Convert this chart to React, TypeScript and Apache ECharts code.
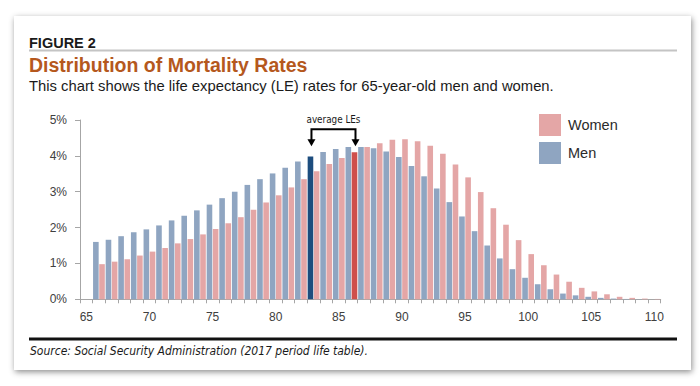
import React, { useEffect, useRef } from 'react';
import * as echarts from 'echarts';

const AGES = ['65', '66', '67', '68', '69', '70', '71', '72', '73', '74', '75', '76', '77', '78', '79', '80', '81', '82', '83', '84', '85', '86', '87', '88', '89', '90', '91', '92', '93', '94', '95', '96', '97', '98', '99', '100', '101', '102', '103', '104', '105', '106', '107', '108', '109', '110'];

const MEN = [null, 1.60, 1.66, 1.76, 1.87, 1.95, 2.06, 2.20, 2.33, 2.48, 2.64, 2.82, 3.00, 3.19, 3.35, 3.51, 3.67, 3.84, 3.98, 4.11, 4.19, 4.25, 4.25, 4.21, 4.12, 3.97, 3.72, 3.43, 3.09, 2.71, 2.31, 1.90, 1.50, 1.14, 0.84, 0.60, 0.42, 0.28, 0.16, 0.11, 0.07, 0.04, 0.02, 0.01, 0.005, 0];

const WOMEN = [null, 0.98, 1.05, 1.12, 1.22, 1.33, 1.43, 1.56, 1.68, 1.81, 1.96, 2.12, 2.29, 2.50, 2.70, 2.90, 3.12, 3.35, 3.57, 3.77, 3.94, 4.10, 4.25, 4.35, 4.45, 4.46, 4.41, 4.28, 4.06, 3.76, 3.40, 2.99, 2.54, 2.08, 1.65, 1.26, 0.95, 0.69, 0.49, 0.32, 0.22, 0.14, 0.07, 0.04, 0.02, 0.01];

const MEN_AVG_AGE = '83';
const WOMEN_AVG_AGE = '86';

const Y_MIN = 0;
const Y_MAX = 5;
const Y_STEP = 1;

const FIGURE_LABEL = 'FIGURE 2';
const TITLE = 'Distribution of Mortality Rates';
const SUBTITLE = 'This chart shows the life expectancy (LE) rates for 65-year-old men and women.';
const SOURCE = 'Source: Social Security Administration (2017 period life table).';
const ANNOTATION = 'average LEs';

const MEN_COLOR = '#8fa5c1';
const WOMEN_COLOR = '#e4a6a6';
const MEN_HL = '#1d4d7e';
const WOMEN_HL = '#cf4f4c';
const SANS = "'Liberation Sans', Arial, Helvetica, sans-serif";
const COND = "'DejaVu Sans Condensed', 'Liberation Sans', sans-serif";
const BAR_W = 5.6;
const BAR_GAP = 0.1;

export default function App() {
  const ref = useRef<HTMLDivElement>(null);

  useEffect(() => {
    if (!ref.current) return;
    const chart = echarts.init(ref.current, null, { renderer: 'svg' });

    const menData = MEN.map((v, i) =>
      AGES[i] === MEN_AVG_AGE ? { value: v, itemStyle: { color: MEN_HL } } : v
    );
    const womenData = WOMEN.map((v, i) =>
      AGES[i] === WOMEN_AVG_AGE ? { value: v, itemStyle: { color: WOMEN_HL } } : v
    );

    const staticGraphics: any[] = [
      {
        type: 'text', x: 29, y: 42.7,
        style: { text: FIGURE_LABEL, font: `bold 14.5px ${SANS}`, fill: '#1a1a1a', verticalAlign: 'middle' },
      },
      {
        type: 'line', shape: { x1: 29, y1: 50.5, x2: 677, y2: 50.5 },
        style: { stroke: '#c4c4c4', lineWidth: 2 },
      },
      {
        type: 'text', x: 29, y: 65,
        style: { text: TITLE, font: `bold 19.5px ${SANS}`, fill: '#b5581d', verticalAlign: 'middle' },
      },
      {
        type: 'text', x: 29, y: 86,
        style: { text: SUBTITLE, font: `14.8px ${SANS}`, fill: '#1a1a1a', verticalAlign: 'middle' },
      },
      {
        type: 'line', shape: { x1: 29, y1: 339, x2: 677, y2: 339 },
        style: { stroke: '#111', lineWidth: 3 },
      },
      {
        type: 'text', x: 30, y: 351,
        style: { text: SOURCE, font: `italic 12px ${COND}`, fill: '#1a1a1a', verticalAlign: 'middle' },
      },
    ];

    chart.setOption({
      animation: false,
      backgroundColor: 'transparent',
      grid: { left: 80, right: 39.3, top: 120, bottom: 86.7 },
      legend: {
        data: ['Women', 'Men'],
        orient: 'vertical',
        left: 534,
        top: 109,
        itemWidth: 22,
        itemHeight: 22,
        itemGap: 6,
        icon: 'rect',
        selectedMode: false,
        textStyle: { fontSize: 14.5, color: '#2b2b2b', fontFamily: SANS, padding: [0, 0, 0, 2] },
      },
      xAxis: {
        type: 'category',
        data: AGES,
        boundaryGap: true,
        axisLine: { lineStyle: { color: '#a6a6a6', width: 1 } },
        axisTick: { show: true, interval: 0, length: 4, lineStyle: { color: '#a6a6a6' } },
        axisLabel: {
          interval: (i: number, v: string) => (Number(v) - Number(AGES[0])) % 5 === 0,
          margin: 12,
          color: '#404040',
          fontSize: 12,
          fontFamily: SANS,
        },
      },
      yAxis: {
        type: 'value',
        min: Y_MIN,
        max: Y_MAX,
        interval: Y_STEP,
        axisLine: { show: true, lineStyle: { color: '#a6a6a6', width: 1 } },
        axisTick: { show: true, length: 5, lineStyle: { color: '#a6a6a6' } },
        splitLine: { show: false },
        axisLabel: {
          formatter: '{value}%',
          margin: 13,
          color: '#404040',
          fontSize: 12,
          fontFamily: SANS,
        },
      },
      series: [
        {
          name: 'Men', type: 'bar', data: menData, barWidth: BAR_W, barGap: `${BAR_GAP * 100}%`,
          itemStyle: { color: MEN_COLOR },
        },
        {
          name: 'Women', type: 'bar', data: womenData, barWidth: BAR_W, barGap: `${BAR_GAP * 100}%`,
          itemStyle: { color: WOMEN_COLOR },
        },
      ],
      graphic: staticGraphics,
    });

    // annotation bracket positioned through the axes
    const offset = (BAR_W + BAR_W * BAR_GAP) / 2;
    const xm = (chart.convertToPixel({ xAxisIndex: 0 }, MEN_AVG_AGE) as number) - offset + 1;
    const xw = (chart.convertToPixel({ xAxisIndex: 0 }, WOMEN_AVG_AGE) as number) + offset + 1;
    const yTop = chart.convertToPixel({ yAxisIndex: 0 }, 4.74) as number;
    const yTip = chart.convertToPixel({ yAxisIndex: 0 }, 4.27) as number;
    const yText = chart.convertToPixel({ yAxisIndex: 0 }, 5.02) as number;
    const head = 7;
    const annot: any[] = [
      {
        type: 'polyline',
        shape: { points: [[xm, yTip - head + 1], [xm, yTop], [xw, yTop], [xw, yTip - head + 1]] },
        style: { stroke: '#000', lineWidth: 2, fill: 'none' },
      },
      {
        type: 'polygon',
        shape: { points: [[xm - 4, yTip - head], [xm + 4, yTip - head], [xm, yTip]] },
        style: { fill: '#000' },
      },
      {
        type: 'polygon',
        shape: { points: [[xw - 4, yTip - head], [xw + 4, yTip - head], [xw, yTip]] },
        style: { fill: '#000' },
      },
      {
        type: 'text', x: (xm + xw) / 2, y: yText,
        style: { text: ANNOTATION, font: `9.8px ${COND}`, fill: '#1a1a1a', align: 'center', verticalAlign: 'middle' },
      },
    ];
    chart.setOption({ graphic: [...staticGraphics, ...annot] });

    return () => chart.dispose();
  }, []);

  return (
    <div style={{ position: 'fixed', left: 0, top: 0, width: 700, height: 386, background: '#fff' }}>
      <div
        style={{
          position: 'absolute', left: 14, top: 16, width: 677, height: 354, background: '#fff',
          boxShadow: '1px 2px 6px rgba(0,0,0,0.45)',
        }}
      />
      <div ref={ref} style={{ position: 'absolute', left: 0, top: 0, width: 700, height: 386 }} />
    </div>
  );
}
